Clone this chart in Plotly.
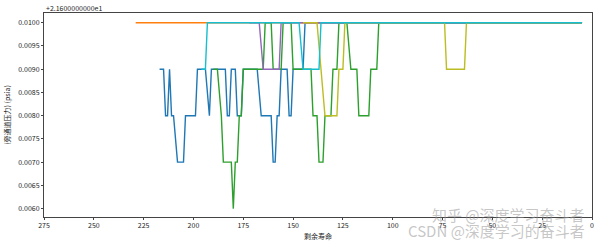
import plotly.graph_objects as go

# y values are relative to the axis offset (+2.1600000000e1)
blue_x = [217, 215, 214, 213, 212, 211, 210, 208, 205, 204, 199, 198, 194, 192, 191, 184, 183, 182, 181, 179, 178, 176, 175,
          168, 166, 161, 160, 159, 158, 157, 156, 153, 152, 151, 150, 145, 144, 5]
blue_y = [0.009, 0.009, 0.008, 0.008, 0.009, 0.008, 0.008, 0.007, 0.007, 0.008, 0.008, 0.009, 0.009, 0.008, 0.009, 0.009, 0.008, 0.008, 0.009, 0.009, 0.008, 0.008, 0.009,
          0.009, 0.008, 0.008, 0.007, 0.007, 0.008, 0.008, 0.009, 0.009, 0.008, 0.008, 0.009, 0.009, 0.010, 0.010]

orange_x = [229, 5]
orange_y = [0.010, 0.010]

green_x = [190, 188, 186, 185, 181, 180, 179, 178, 177, 176, 175, 165, 164, 161, 160, 156, 155, 151, 150, 141, 140, 138, 137, 135, 134, 131, 130, 128, 127,
           123, 121, 118, 117, 112, 111, 108, 107, 5]
green_y = [0.009, 0.009, 0.008, 0.007, 0.007, 0.006, 0.007, 0.007, 0.008, 0.008, 0.009, 0.009, 0.010, 0.010, 0.009, 0.009, 0.010, 0.010, 0.009, 0.009, 0.008, 0.008, 0.007, 0.007, 0.008, 0.008, 0.009, 0.009, 0.010,
           0.010, 0.009, 0.009, 0.008, 0.008, 0.009, 0.009, 0.010, 0.010]

purple_x = [172, 167, 165, 157, 156, 5]
purple_y = [0.010, 0.010, 0.009, 0.009, 0.010, 0.010]

olive_x = [145, 138, 136, 134, 128, 127, 125, 124, 74, 73, 64, 63, 5]
olive_y = [0.010, 0.010, 0.009, 0.008, 0.008, 0.009, 0.009, 0.010, 0.010, 0.009, 0.009, 0.010, 0.010]

cyan_x = [196, 194, 193, 147, 145, 137, 136, 5]
cyan_y = [0.009, 0.009, 0.010, 0.010, 0.009, 0.009, 0.010, 0.010]

series = [
    (blue_x, blue_y, "#1f77b4"),
    (orange_x, orange_y, "#ff7f0e"),
    (green_x, green_y, "#2ca02c"),
    (purple_x, purple_y, "#9467bd"),
    (olive_x, olive_y, "#bcbd22"),
    (cyan_x, cyan_y, "#17becf"),
]

x_ticks = [275, 250, 225, 200, 175, 150, 125, 100, 75, 50, 25, 0]
y_ticks = [0.0060, 0.0065, 0.0070, 0.0075, 0.0080, 0.0085, 0.0090, 0.0095, 0.0100]
offset_text = "+2.1600000000e1"

fig = go.Figure()
for xs, ys, c in series:
    fig.add_trace(go.Scatter(x=xs, y=ys, mode="lines", line=dict(color=c, width=1.4), showlegend=False))

font = "Noto Sans CJK SC, DejaVu Sans, sans-serif"
fig.update_layout(
    width=600, height=245,
    margin=dict(l=44, r=6, t=13, b=27),
    plot_bgcolor="white", paper_bgcolor="white",
    font=dict(family=font, size=7, color="#222"),
    xaxis=dict(range=[275, 0], tickvals=x_ticks, ticktext=[str(v) for v in x_ticks],
               showgrid=False, zeroline=False, showline=True, mirror=True, linecolor="#444", linewidth=1,
               ticks="outside", ticklen=2, tickcolor="#444",
               title=dict(text="剩余寿命", font=dict(size=7), standoff=4)),
    yaxis=dict(range=[0.00582, 0.01021], tickvals=y_ticks, ticktext=[f"{v:.4f}" for v in y_ticks],
               showgrid=False, zeroline=False, showline=True, mirror=True, linecolor="#444", linewidth=1,
               ticks="outside", ticklen=2, tickcolor="#444",
               title=dict(text="(旁通道压力) (psia)", font=dict(size=7), standoff=6)),
    annotations=[
        dict(text=offset_text, xref="paper", yref="paper", x=0, y=1, xanchor="left", yanchor="bottom",
             showarrow=False, font=dict(size=7, color="#222"), yshift=-2),
        dict(text="知乎 @深度学习奋斗者", xref="paper", yref="paper", x=0.99, y=0.01, xanchor="right", yanchor="middle",
             showarrow=False, font=dict(size=15, color="rgba(150,150,150,0.55)")),
        dict(text="CSDN @深度学习的奋斗者", xref="paper", yref="paper", x=0.99, y=-0.068, xanchor="right", yanchor="middle",
             showarrow=False, font=dict(size=15, color="rgba(150,150,150,0.55)")),
    ],
)

fig.write_html("out.html")
